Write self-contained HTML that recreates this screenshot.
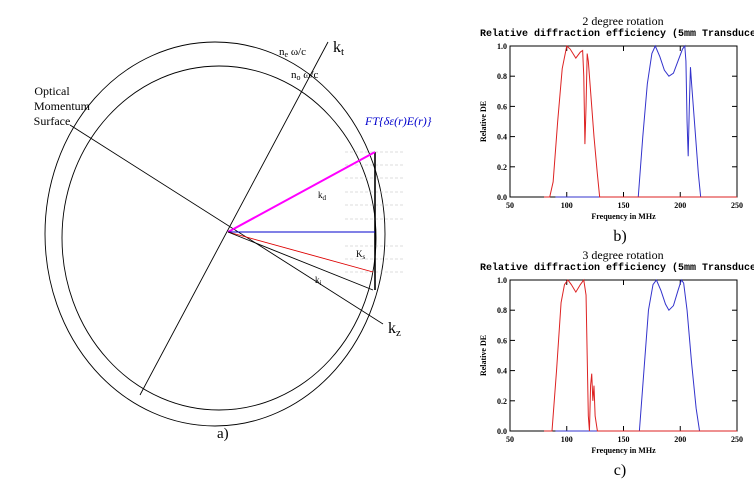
<!DOCTYPE html>
<html><head><meta charset="utf-8"><style>
body{margin:0;background:#fff;width:754px;height:485px;overflow:hidden}
svg{position:absolute;left:0;top:0}
text{font-family:"Liberation Serif",serif}
</style></head><body>
<svg width="754" height="485">
<g fill="none" stroke="#000" stroke-width="0.9">
<ellipse cx="215" cy="234" rx="170" ry="192"/>
<ellipse cx="219" cy="238" rx="157" ry="172"/>
<line x1="140" y1="395" x2="328" y2="42"/>
<line x1="70" y1="125" x2="383" y2="324"/>
<g stroke="#bbb" stroke-dasharray="3,2" stroke-width="0.6">
<line x1="345" y1="152" x2="405" y2="152"/><line x1="345" y1="165" x2="405" y2="165"/><line x1="345" y1="178" x2="405" y2="178"/><line x1="345" y1="192" x2="405" y2="192"/><line x1="345" y1="205" x2="405" y2="205"/><line x1="345" y1="219" x2="405" y2="219"/><line x1="345" y1="246" x2="405" y2="246"/><line x1="345" y1="259" x2="405" y2="259"/><line x1="345" y1="272" x2="405" y2="272"/>
</g>
<line x1="375" y1="152" x2="375" y2="290" stroke-width="1.6"/>
<line x1="228" y1="232" x2="375" y2="152" stroke="#f0f" stroke-width="2"/>
<line x1="228" y1="232" x2="375" y2="232" stroke="#00c"/>
<line x1="228" y1="232" x2="373" y2="272" stroke="#d00"/>
<line x1="228" y1="232" x2="373" y2="290"/>
</g>
<g font-size="12">
<text x="279" y="55" font-size="11">n<tspan font-size="8" dy="2">e</tspan><tspan dy="-2"> ω/c</tspan></text>
<text x="291" y="78" font-size="11">n<tspan font-size="8" dy="2">o</tspan><tspan dy="-2"> ω/c</tspan></text>
<text x="333" y="52" font-size="16">k<tspan font-size="11" dy="3">t</tspan></text>
<text x="388" y="333" font-size="16">k<tspan font-size="11" dy="3">z</tspan></text>
<text x="52" y="95" text-anchor="middle" font-size="12">Optical</text>
<text x="62" y="110" text-anchor="middle" font-size="12">Momentum</text>
<text x="52" y="125" text-anchor="middle" font-size="12">Surface</text>
<text x="365" y="125" fill="#00c" font-size="12" font-style="italic">FT{δε(r)E(r)}</text>
<text x="318" y="198" font-size="9">k<tspan font-size="7" dy="2">d</tspan></text>
<text x="356" y="257" font-size="9">K<tspan font-size="7" dy="2">s</tspan></text>
<text x="315" y="283" font-size="9">k<tspan font-size="7" dy="2">i</tspan></text>
<text x="217" y="438" font-size="15">a)</text>
</g>
<g id="pb"></g>
<g id="pc"></g>
</svg>
<script>
const xTicks=[50,100,150,200,250];
const yTicks=[0,0.2,0.4,0.6,0.8,1.0];
const bRedF=[80,85,88,92,96,100,103,108,112,114,115,116,117,118,119,121,124,127,129,250];
const bRedV=[0,0,0.1,0.5,0.85,1.0,0.98,0.92,0.96,0.97,0.8,0.35,0.6,0.95,0.9,0.7,0.4,0.15,0,0];
const bBlueF=[90,163,167,171,175,178,182,186,190,194,198,202,204,205,206,207,208,209,210,213,216,218,222];
const bBlueV=[0,0,0.4,0.75,0.95,1.0,0.93,0.84,0.8,0.82,0.9,0.98,1.0,0.9,0.5,0.27,0.6,0.86,0.75,0.45,0.15,0,0];
const cRedF=[80,87,91,95,98,101,104,108,112,115,117,118,119,120,121,122,123,124,125,127,250];
const cRedV=[0,0,0.4,0.85,0.97,1.0,0.97,0.92,0.97,1.0,0.9,0.5,0.1,0,0.3,0.38,0.2,0.3,0.1,0,0];
const cBlueF=[90,164,168,172,176,179,183,187,190,194,198,201,203,206,210,214,217,222];
const cBlueV=[0,0,0.4,0.8,0.97,1.0,0.93,0.84,0.8,0.83,0.93,1.0,0.98,0.8,0.45,0.15,0,0];
const NS='http://www.w3.org/2000/svg';
function mk(p,t,a,txt){const e=document.createElementNS(NS,t);for(const k in a)e.setAttribute(k,a[k]);if(txt!==undefined)e.textContent=txt;p.appendChild(e);return e;}
function panel(g,top,title,label,rf,rv,bf,bv){
 const L=510,R=737,T=top,B=top+151;
 const sx=v=>L+(v-50)/200*(R-L), sy=v=>B-v*(B-T);
 let e=mk(g,'text',{x:623,y:T-21,'text-anchor':'middle','font-size':12},title);
 
 
 e=mk(g,'text',{x:480,y:T-10,style:'font-family:"Liberation Mono",monospace;font-size:10px;font-weight:bold'},'Relative diffraction efficiency (5mm Transducer');
 
 
 e=mk(g,'rect',{x:L,y:T,width:R-L,height:B-T,fill:'none',stroke:'#000','stroke-width':1});
 
 
 xTicks.forEach(v=>{mk(g,'line',{x1:sx(v),y1:B,x2:sx(v),y2:B-5,stroke:'#000'});mk(g,'line',{x1:sx(v),y1:T,x2:sx(v),y2:T+5,stroke:'#000'});
  e=mk(g,'text',{x:sx(v),y:B+11,'text-anchor':'middle','font-size':8,'font-weight':'bold'},v);
  
  });
 yTicks.forEach(v=>{mk(g,'line',{x1:L,y1:sy(v),x2:L+5,y2:sy(v),stroke:'#000'});mk(g,'line',{x1:R,y1:sy(v),x2:R-5,y2:sy(v),stroke:'#000'});
  e=mk(g,'text',{x:L-3,y:sy(v)+3,'text-anchor':'end','font-size':8,'font-weight':'bold'},v.toFixed(1));
  
  });
 e=mk(g,'text',{x:(L+R)/2,y:B+22,'text-anchor':'middle','font-size':8,'font-weight':'bold'},'Frequency in MHz');
 
 
 e=mk(g,'text',{x:0,y:0,'text-anchor':'middle','font-size':8,'font-weight':'bold',transform:`translate(486,${(T+B)/2}) rotate(-90)`},'Relative DE');
 
 
 e=mk(g,'polyline',{points:bf.map((f,i)=>sx(f)+','+sy(bv[i])).join(' '),fill:'none',stroke:'#33c','stroke-width':1});
 
 
 e=mk(g,'polyline',{points:rf.map((f,i)=>sx(f)+','+sy(rv[i])).join(' '),fill:'none',stroke:'#d22','stroke-width':1});
 
 
 e=mk(g,'text',{x:620,y:B+44,'text-anchor':'middle','font-size':16},label);
 
 
}
panel(document.getElementById('pb'),46,'2 degree rotation','b)',bRedF,bRedV,bBlueF,bBlueV);
panel(document.getElementById('pc'),280,'3 degree rotation','c)',cRedF,cRedV,cBlueF,cBlueV);
</script>
</body></html>
